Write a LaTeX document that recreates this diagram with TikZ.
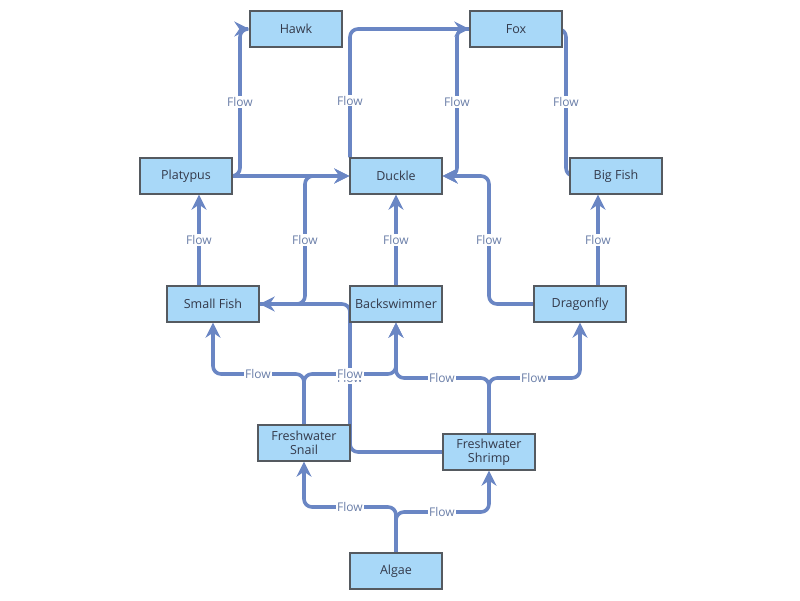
\documentclass[tikz,border=0pt]{standalone}
\usepackage{fontspec}
\setmainfont{Open Sans}
\usetikzlibrary{arrows.meta}
\pgfdeclarelayer{bg}
\pgfsetlayers{bg,main}
\definecolor{boxfill}{HTML}{A8D8F8}
\definecolor{boxline}{HTML}{555A60}
\definecolor{flowc}{HTML}{6A86C4}
\definecolor{lblc}{HTML}{6A7EA8}
\definecolor{txtc}{HTML}{33394A}
\tikzset{
  box/.style={draw=boxline, fill=boxfill, line width=1.4pt, minimum width=92pt, minimum height=36pt,
    inner sep=1pt, align=center, font=\fontsize{12.5}{14}\selectfont, text=txtc},
  flow/.style={draw=flowc, line width=3.6pt, rounded corners=8pt,
    -{Stealth[length=15pt, width=15pt, inset=5pt]}},
  lbl/.style={fill=white, inner sep=1pt, text=lblc, font=\fontsize{12}{13}\selectfont, sharp corners}
}
\begin{document}
\begin{tikzpicture}[x=1pt, y=-1pt]
\useasboundingbox (0,0) rectangle (800,600);

% nodes
\node[box] (hawk) at (296,29) {Hawk};
\node[box] (fox) at (516,29) {Fox};
\node[box] (platypus) at (186,176) {Platypus};
\node[box] (duckle) at (396,176) {Duckle};
\node[box] (bigfish) at (616,176) {Big Fish};
\node[box] (smallfish) at (213,304) {Small Fish};
\node[box] (backswimmer) at (396,304) {Backswimmer};
\node[box] (dragonfly) at (580,304) {Dragonfly};
\node[box] (snail) at (304,443) {Freshwater\\Snail};
\node[box] (shrimp) at (489,452) {Freshwater\\Shrimp};
\node[box] (algae) at (396,571) {Algae};

% connectors
\begin{pgfonlayer}{bg}
\fill[white] (0,0) rectangle (800,600);
\draw[flow] (shrimp.west) -| (350,378) node[lbl]{Flow} |- (smallfish.east);
\draw[flow] (algae.north) |- (350,507) node[lbl]{Flow} -| (snail.south);
\draw[flow] (algae.north) |- (442,512) node[lbl]{Flow} -| (shrimp.south);
\draw[flow] (snail.north) |- (258,374) node[lbl]{Flow} -| (smallfish.south);
\draw[flow] (snail.north) |- (350,374) node[lbl]{Flow} -| (backswimmer.south);
\draw[flow] (shrimp.north) |- (442,378) node[lbl]{Flow} -| (backswimmer.south);
\draw[flow] (shrimp.north) |- (534,378) node[lbl]{Flow} -| (dragonfly.south);
\draw[flow] ([xshift=-14pt]smallfish.north) -- node[lbl]{Flow} ([xshift=13pt]platypus.south);
\draw[flow] (smallfish.east) -| (305,240) node[lbl]{Flow} |- (duckle.west);
\draw[flow] (backswimmer.north) -- node[lbl]{Flow} (duckle.south);
\draw[flow] (platypus.east) -- (duckle.west);
\draw[flow] (platypus.east) -| (240,102) node[lbl]{Flow} |- (hawk.west);
\draw[flow] ([xshift=0.7pt]duckle.north west) |- node[lbl, pos=0.22]{Flow} (fox.west);
\draw[flow] (fox.west) -| (457,102) node[lbl]{Flow} |- (duckle.east);
\draw[flow] (dragonfly.west) -| (489,240) node[lbl]{Flow} |- (duckle.east);
\draw[flow] ([xshift=18pt]dragonfly.north) -- node[lbl]{Flow} ([xshift=-18pt]bigfish.south);
\draw[flow] (bigfish.west) -| (566,102) node[lbl]{Flow} |- (fox.east);
\end{pgfonlayer}
\end{tikzpicture}
\end{document}
